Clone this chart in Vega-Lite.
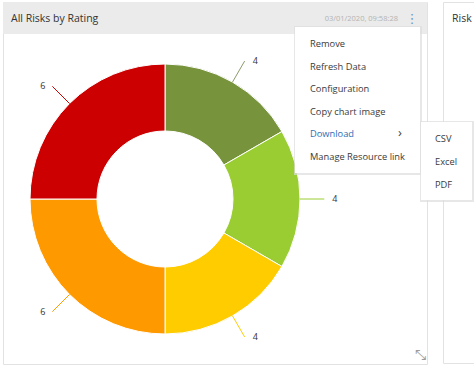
{
  "$schema": "https://vega.github.io/schema/vega-lite/v6.json",
  "width": 424,
  "height": 362,
  "autosize": {"type": "none"},
  "padding": {"left": 3, "top": 2, "right": 47, "bottom": 4},
  "background": "white",
  "config": {"view": {"stroke": "#e2e2e2", "fill": "white"}, "font": "Open Sans"},
  "datasets": {
    "risks": [
      {"rating": "Very Low", "value": 4, "idx": 1},
      {"rating": "Low", "value": 4, "idx": 2},
      {"rating": "Medium", "value": 4, "idx": 3},
      {"rating": "High", "value": 6, "idx": 4},
      {"rating": "Very High", "value": 6, "idx": 5}
    ],
    "ui": [
      {"key": "header"},
      {"key": "card2"},
      {"key": "title", "text": "All Risks by Rating"},
      {"key": "date", "text": "03/01/2020, 09:58:28"},
      {"key": "kebab", "text": "⋮"},
      {"key": "risk", "text": "Risk"},
      {"key": "resize", "text": "⤡"},
      {"key": "mainbox"},
      {"key": "subbox"}
    ],
    "menu": [
      {"menu": "main", "row": 0, "label": "Remove"},
      {"menu": "main", "row": 1, "label": "Refresh Data"},
      {"menu": "main", "row": 2, "label": "Configuration"},
      {"menu": "main", "row": 3, "label": "Copy chart image"},
      {"menu": "main", "row": 4, "label": "Download", "submenu": true},
      {"menu": "main", "row": 5, "label": "Manage Resource link"},
      {"menu": "sub", "row": 0, "label": "CSV"},
      {"menu": "sub", "row": 1, "label": "Excel"},
      {"menu": "sub", "row": 2, "label": "PDF"}
    ]
  },
  "resolve": {"scale": {"x": "independent", "y": "independent", "color": "independent"}},
  "layer": [
    {
      "data": {"name": "ui"},
      "transform": [{"filter": "datum.key==='header'"}],
      "mark": {"type": "rect", "color": "#ebebeb"},
      "encoding": {
        "x": {"field": "key", "type": "nominal", "axis": null, "scale": {"type": "band", "domain": ["header"], "range": [0, 424], "paddingInner": 0, "paddingOuter": 0}},
        "y": {"field": "key", "type": "nominal", "axis": null, "scale": {"type": "band", "domain": ["header"], "range": [0, 32], "paddingInner": 0, "paddingOuter": 0}}
      }
    },
    {
      "data": {"name": "ui"},
      "transform": [{"filter": "datum.key==='card2'"}],
      "mark": {"type": "rect", "fill": "white", "stroke": "#e2e2e2", "strokeWidth": 1},
      "encoding": {
        "x": {"field": "key", "type": "nominal", "axis": null, "scale": {"type": "band", "domain": ["card2"], "range": [440.5, 500], "paddingInner": 0, "paddingOuter": 0}},
        "y": {"field": "key", "type": "nominal", "axis": null, "scale": {"type": "band", "domain": ["card2"], "range": [0.5, 361.5], "paddingInner": 0, "paddingOuter": 0}}
      }
    },
    {
      "data": {"name": "ui"},
      "transform": [{"filter": "datum.key==='title'"}],
      "mark": {"type": "text", "align": "left", "baseline": "middle", "fontSize": 10.5, "color": "#333333"},
      "encoding": {
        "text": {"field": "text"},
        "x": {"field": "key", "type": "nominal", "axis": null, "scale": {"type": "point", "domain": ["title"], "range": [8, 8]}},
        "y": {"field": "key", "type": "nominal", "axis": null, "scale": {"type": "point", "domain": ["title"], "range": [17, 17]}}
      }
    },
    {
      "data": {"name": "ui"},
      "transform": [{"filter": "datum.key==='date'"}],
      "mark": {"type": "text", "align": "right", "baseline": "middle", "fontSize": 7.5, "color": "#b3b3b3"},
      "encoding": {
        "text": {"field": "text"},
        "x": {"field": "key", "type": "nominal", "axis": null, "scale": {"type": "point", "domain": ["date"], "range": [395, 395]}},
        "y": {"field": "key", "type": "nominal", "axis": null, "scale": {"type": "point", "domain": ["date"], "range": [17, 17]}}
      }
    },
    {
      "data": {"name": "ui"},
      "transform": [{"filter": "datum.key==='kebab'"}],
      "mark": {"type": "text", "align": "center", "baseline": "middle", "fontSize": 13, "color": "#7094c4", "font": "DejaVu Sans"},
      "encoding": {
        "text": {"field": "text"},
        "x": {"field": "key", "type": "nominal", "axis": null, "scale": {"type": "point", "domain": ["kebab"], "range": [409, 409]}},
        "y": {"field": "key", "type": "nominal", "axis": null, "scale": {"type": "point", "domain": ["kebab"], "range": [17, 17]}}
      }
    },
    {
      "data": {"name": "ui"},
      "transform": [{"filter": "datum.key==='risk'"}],
      "mark": {"type": "text", "align": "left", "baseline": "middle", "fontSize": 10.5, "color": "#333333"},
      "encoding": {
        "text": {"field": "text"},
        "x": {"field": "key", "type": "nominal", "axis": null, "scale": {"type": "point", "domain": ["risk"], "range": [449, 449]}},
        "y": {"field": "key", "type": "nominal", "axis": null, "scale": {"type": "point", "domain": ["risk"], "range": [17, 17]}}
      }
    },
    {
      "data": {"name": "ui"},
      "transform": [{"filter": "datum.key==='resize'"}],
      "mark": {"type": "text", "align": "center", "baseline": "middle", "fontSize": 14, "color": "#9a9a9a", "font": "DejaVu Sans"},
      "encoding": {
        "text": {"field": "text"},
        "x": {"field": "key", "type": "nominal", "axis": null, "scale": {"type": "point", "domain": ["resize"], "range": [417, 417]}},
        "y": {"field": "key", "type": "nominal", "axis": null, "scale": {"type": "point", "domain": ["resize"], "range": [354, 354]}}
      }
    },
    {
      "data": {"name": "risks"},
      "mark": {"type": "arc", "outerRadius": 135, "innerRadius": 68, "stroke": "white", "strokeWidth": 1},
      "encoding": {
        "theta": {"field": "value", "type": "quantitative", "stack": true},
        "order": {"field": "idx", "type": "quantitative"},
        "color": {"field": "rating", "type": "nominal", "legend": null, "scale": {"domain": ["Very Low", "Low", "Medium", "High", "Very High"], "range": ["#77933c", "#9acd32", "#ffcc00", "#ff9900", "#cc0000"]}},
        "x": {"datum": 0, "type": "quantitative", "axis": null, "scale": {"domain": [-1.2, 1.9407], "nice": false, "zero": false}},
        "y": {"datum": 0, "type": "quantitative", "axis": null, "scale": {"domain": [-1.2222, 1.4593], "nice": false, "zero": false}}
      }
    },
    {
      "data": {"name": "risks"},
      "transform": [
        {"joinaggregate": [{"op": "sum", "field": "value", "as": "total"}]},
        {"window": [{"op": "sum", "field": "value", "as": "cum"}], "sort": [{"field": "idx"}], "frame": [null, 0]},
        {"calculate": "2*PI*(datum.cum - datum.value/2)/datum.total", "as": "mid"},
        {"calculate": "sin(datum.mid)", "as": "x1"},
        {"calculate": "cos(datum.mid)", "as": "y1"},
        {"calculate": "1.18*sin(datum.mid)", "as": "x2"},
        {"calculate": "1.18*cos(datum.mid)", "as": "y2"}
      ],
      "mark": {"type": "rule", "strokeWidth": 1},
      "encoding": {
        "x": {"field": "x1", "type": "quantitative", "axis": null, "scale": {"domain": [-1.2, 1.9407], "nice": false, "zero": false}},
        "y": {"field": "y1", "type": "quantitative", "axis": null, "scale": {"domain": [-1.2222, 1.4593], "nice": false, "zero": false}},
        "x2": {"field": "x2"},
        "y2": {"field": "y2"},
        "color": {"field": "rating", "type": "nominal", "legend": null, "scale": {"domain": ["Very Low", "Low", "Medium", "High", "Very High"], "range": ["#8a9a6a", "#9acd32", "#ffcc00", "#ff9900", "#cc0000"]}}
      }
    },
    {
      "data": {"name": "risks"},
      "transform": [
        {"joinaggregate": [{"op": "sum", "field": "value", "as": "total"}]},
        {"window": [{"op": "sum", "field": "value", "as": "cum"}], "sort": [{"field": "idx"}], "frame": [null, 0]},
        {"calculate": "2*PI*(datum.cum - datum.value/2)/datum.total", "as": "mid"},
        {"calculate": "1.18*sin(datum.mid)", "as": "lx"},
        {"calculate": "1.18*cos(datum.mid)", "as": "ly"},
        {"filter": "datum.lx > 0"}
      ],
      "mark": {"type": "text", "align": "left", "baseline": "middle", "dx": 8, "fontSize": 9, "color": "#333333"},
      "encoding": {
        "text": {"field": "value", "type": "quantitative"},
        "x": {"field": "lx", "type": "quantitative", "axis": null, "scale": {"domain": [-1.2, 1.9407], "nice": false, "zero": false}},
        "y": {"field": "ly", "type": "quantitative", "axis": null, "scale": {"domain": [-1.2222, 1.4593], "nice": false, "zero": false}}
      }
    },
    {
      "data": {"name": "risks"},
      "transform": [
        {"joinaggregate": [{"op": "sum", "field": "value", "as": "total"}]},
        {"window": [{"op": "sum", "field": "value", "as": "cum"}], "sort": [{"field": "idx"}], "frame": [null, 0]},
        {"calculate": "2*PI*(datum.cum - datum.value/2)/datum.total", "as": "mid"},
        {"calculate": "1.18*sin(datum.mid)", "as": "lx"},
        {"calculate": "1.18*cos(datum.mid)", "as": "ly"},
        {"filter": "datum.lx < 0"}
      ],
      "mark": {"type": "text", "align": "right", "baseline": "middle", "dx": -7, "fontSize": 9, "color": "#333333"},
      "encoding": {
        "text": {"field": "value", "type": "quantitative"},
        "x": {"field": "lx", "type": "quantitative", "axis": null, "scale": {"domain": [-1.2, 1.9407], "nice": false, "zero": false}},
        "y": {"field": "ly", "type": "quantitative", "axis": null, "scale": {"domain": [-1.2222, 1.4593], "nice": false, "zero": false}}
      }
    },
    {
      "data": {"name": "ui"},
      "transform": [{"filter": "datum.key==='mainbox'"}],
      "mark": {"type": "rect", "color": "#dddddd", "opacity": 0.7},
      "encoding": {
        "x": {"field": "key", "type": "nominal", "axis": null, "scale": {"type": "band", "domain": ["mainbox"], "range": [291, 419], "paddingInner": 0, "paddingOuter": 0}},
        "y": {"field": "key", "type": "nominal", "axis": null, "scale": {"type": "band", "domain": ["mainbox"], "range": [24, 173], "paddingInner": 0, "paddingOuter": 0}}
      }
    },
    {
      "data": {"name": "ui"},
      "transform": [{"filter": "datum.key==='mainbox'"}],
      "mark": {"type": "rect", "color": "white"},
      "encoding": {
        "x": {"field": "key", "type": "nominal", "axis": null, "scale": {"type": "band", "domain": ["mainbox"], "range": [292, 417], "paddingInner": 0, "paddingOuter": 0}},
        "y": {"field": "key", "type": "nominal", "axis": null, "scale": {"type": "band", "domain": ["mainbox"], "range": [25, 171], "paddingInner": 0, "paddingOuter": 0}}
      }
    },
    {
      "data": {"name": "ui"},
      "transform": [{"filter": "datum.key==='subbox'"}],
      "mark": {"type": "rect", "color": "#dddddd", "opacity": 0.7},
      "encoding": {
        "x": {"field": "key", "type": "nominal", "axis": null, "scale": {"type": "band", "domain": ["subbox"], "range": [417, 471], "paddingInner": 0, "paddingOuter": 0}},
        "y": {"field": "key", "type": "nominal", "axis": null, "scale": {"type": "band", "domain": ["subbox"], "range": [119, 200], "paddingInner": 0, "paddingOuter": 0}}
      }
    },
    {
      "data": {"name": "ui"},
      "transform": [{"filter": "datum.key==='subbox'"}],
      "mark": {"type": "rect", "color": "white"},
      "encoding": {
        "x": {"field": "key", "type": "nominal", "axis": null, "scale": {"type": "band", "domain": ["subbox"], "range": [418, 469], "paddingInner": 0, "paddingOuter": 0}},
        "y": {"field": "key", "type": "nominal", "axis": null, "scale": {"type": "band", "domain": ["subbox"], "range": [120, 198], "paddingInner": 0, "paddingOuter": 0}}
      }
    },
    {
      "data": {"name": "menu"},
      "transform": [{"filter": "datum.menu==='main'"}],
      "mark": {"type": "text", "align": "left", "baseline": "middle", "fontSize": 9.3},
      "encoding": {
        "text": {"field": "label"},
        "color": {"condition": {"test": "datum.label==='Download'", "value": "#2d6db5"}, "value": "#3a3a3a"},
        "x": {"field": "menu", "type": "nominal", "axis": null, "scale": {"type": "point", "domain": ["main"], "range": [307, 307]}},
        "y": {"field": "row", "type": "ordinal", "axis": null, "scale": {"type": "point", "domain": [0, 1, 2, 3, 4, 5], "range": [42, 155], "padding": 0}}
      }
    },
    {
      "data": {"name": "menu"},
      "transform": [{"filter": "datum.submenu === true"}],
      "mark": {"type": "text", "align": "center", "baseline": "middle", "fontSize": 13, "color": "#444444", "text": "›"},
      "encoding": {
        "x": {"field": "menu", "type": "nominal", "axis": null, "scale": {"type": "point", "domain": ["main"], "range": [397, 397]}},
        "y": {"field": "row", "type": "ordinal", "axis": null, "scale": {"type": "point", "domain": [4], "range": [131, 131]}}
      }
    },
    {
      "data": {"name": "menu"},
      "transform": [{"filter": "datum.menu==='sub'"}],
      "mark": {"type": "text", "align": "left", "baseline": "middle", "fontSize": 9.3, "color": "#3a3a3a"},
      "encoding": {
        "text": {"field": "label"},
        "x": {"field": "menu", "type": "nominal", "axis": null, "scale": {"type": "point", "domain": ["sub"], "range": [432, 432]}},
        "y": {"field": "row", "type": "ordinal", "axis": null, "scale": {"type": "point", "domain": [0, 1, 2], "range": [137, 183], "padding": 0}}
      }
    }
  ]
}
